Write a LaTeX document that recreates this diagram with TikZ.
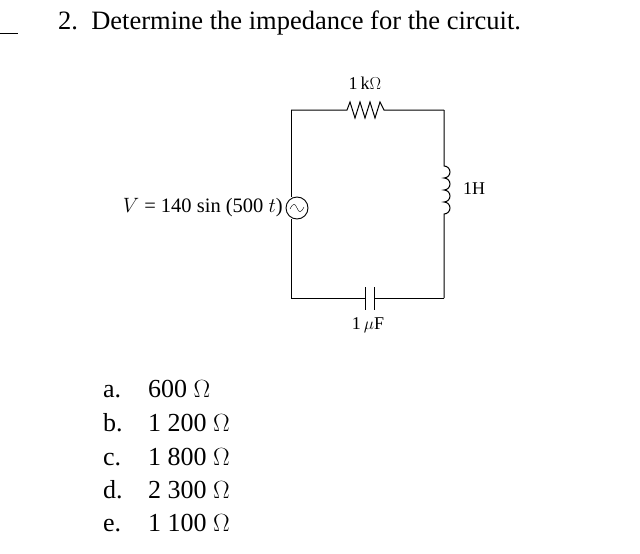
\documentclass[tikz,border=0pt]{standalone}
\usepackage{fontspec}
\setmainfont{Liberation Serif}
\begin{document}
\begin{tikzpicture}[x=1pt,y=-1pt,wire/.style={line width=1pt},
 small/.style={font=\fontsize{18}{20}\selectfont},
 big/.style={font=\fontsize{26.5}{30}\selectfont,anchor=base west,inner sep=0}]
\useasboundingbox (0,0) rectangle (640,554);
\draw[line width=0.8pt] (0,33) -- (18,33);
\node[big] (title) at (58,29) {2.\ \ Determine the impedance for the circuit.};
% corners
\coordinate (tl) at (291,110); \coordinate (tr) at (444,110);
\coordinate (bl) at (291,298); \coordinate (br) at (444,298);
% resistor
\coordinate (r1) at (347,110); \coordinate (r2) at (384,110);
\draw[wire] (tl) -- (r1) -- (350,102) -- (355,118) -- (360,102) -- (365,118) -- (370,102) -- (375,118) -- (380,102) -- (r2) -- (tr);
\node[small] (rl) at (365,83) {1\,k$\Omega$};
% inductor
\coordinate (l1) at (444,166); \coordinate (l2) at (444,214);
\draw[wire] (tr) -- (l1) arc(-90:90:6) arc(-90:90:6) arc(-90:90:6) arc(-90:90:6) -- (br);
\node[small] (ll) at (474,189) {1H};
% capacitor
\coordinate (c1) at (365,298); \coordinate (c2) at (374,298);
\draw[wire] (br) -- (c2); \draw[wire] (c1) -- (bl);
\draw[wire] (365,287) -- (365,310); \draw[wire] (374,287) -- (374,310);
\node[small] (cl) at (368,325) {1\,$\mu$F};
% source
\node[draw,circle,minimum size=22pt,inner sep=0,line width=0.9pt] (src) at (297,208) {};
\draw[wire] (bl) -- (291,219); \draw[wire] (tl) -- (291,197);
\draw (290,209) .. controls (293,203) and (295,203) .. (297,208) .. controls (299,213) and (301,213) .. (304,207);
\node[small,font=\fontsize{20.5}{22}\selectfont,anchor=east,inner sep=0] (sl) at (283,208) {$V$ = 140 sin (500 $t$)};
% answers
\foreach \l/\v/\y in {a./600/397,b./1 200/431,c./1 800/465,d./2 300/498,e./1 100/531}{
 \node[big,font=\fontsize{26}{30}\selectfont] at (103,\y) {\l};
 \node[big,font=\fontsize{26}{30}\selectfont] at (148,\y) {\v\ $\Omega$};
}
\end{tikzpicture}
\end{document}
